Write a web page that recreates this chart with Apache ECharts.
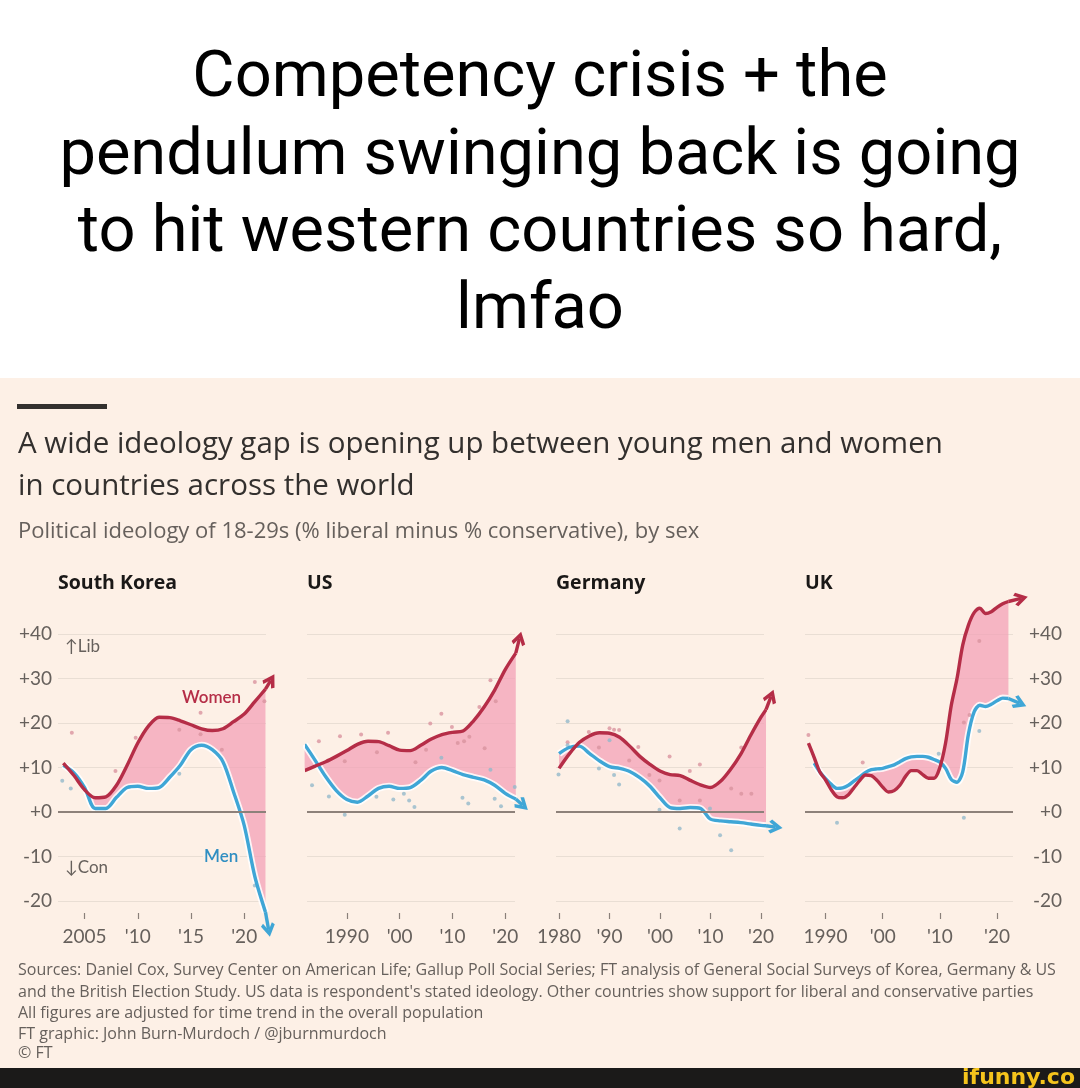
<!DOCTYPE html>
<html>
<head>
<meta charset="utf-8">
<script src="https://cdn.jsdelivr.net/npm/echarts@6.0.0/dist/echarts.min.js"></script>
<style>
  html, body { margin: 0; padding: 0; background: #fff; }
  #chart { width: 1080px; height: 1088px; }
</style>
</head>
<body>
<div id="chart"></div>
<script>
// ---- data ----
const skYears = [2003, 2004, 2005, 2006, 2007, 2008, 2009, 2010, 2011, 2012, 2013, 2014, 2015, 2016, 2017, 2018, 2019, 2020, 2021, 2022];
const skWomen = [11.0, 8.2, 5.0, 3.2, 3.4, 6.0, 10.5, 15.5, 19.3, 21.3, 21.2, 20.5, 19.6, 18.7, 18.3, 18.7, 20.3, 22.0, 24.8, 27.6];
const skMen = [10.5, 8.8, 5.5, 0.8, 0.8, 3.3, 5.5, 5.8, 5.3, 5.5, 7.8, 10.5, 14.0, 15.0, 14.0, 11.3, 4.5, -3.0, -14.5, -22.5];
const skWomenTip = [2022.5, 29.6];
const skMenTip = [2022.3, -26.5];
const skWomenDots = [[2003.8, 17.8], [2009.8, 16.7], [2013.9, 18.5], [2015.9, 22.3], [2015.9, 17.5], [2017.9, 14.0], [2021.0, 29.2], [2021.9, 24.9], [2007.9, 9.2]];
const skMenDots = [[2002.9, 7.0], [2003.7, 5.3], [2013.9, 8.6], [2021.0, -16.5]];
const skTicks = [2005, 2010, 2015, 2020];
const skTickLabels = ['2005', "'10", "'15", "'20"];

const usYears = [1982, 1984, 1986, 1988, 1990, 1992, 1994, 1996, 1998, 2000, 2002, 2004, 2006, 2008, 2010, 2012, 2014, 2016, 2018, 2020, 2022];
const usWomen = [9.3, 10.3, 11.3, 12.5, 13.8, 15.2, 15.9, 15.8, 14.9, 13.9, 13.8, 15.0, 16.4, 17.4, 17.9, 18.2, 20.5, 23.6, 27.4, 32.0, 35.7];
const usMen = [15.2, 11.6, 7.9, 4.8, 2.8, 2.2, 3.6, 5.3, 5.8, 5.3, 5.5, 7.1, 9.2, 10.0, 9.3, 8.4, 7.8, 7.2, 6.0, 4.2, 2.9];
const usWomenTip = [2022.7, 39.0];
const usMenTip = [2023.3, 1.5];
const usWomenDots = [[1984.7, 15.9], [1988.7, 17.0], [1992.7, 17.4], [1997.8, 17.8], [1995.7, 13.4], [1989.6, 11.4], [2007.9, 22.1], [2005.8, 19.9], [2009.9, 19.1], [2011.0, 15.5], [2012.2, 15.9], [2013.2, 16.9], [2015.1, 23.6], [2017.2, 29.6], [2018.2, 24.9], [2022.2, 33.4], [2016.1, 14.3], [2003.0, 11.2], [2005.0, 14.0]];
const usMenDots = [[1983.4, 6.0], [1986.6, 3.5], [1989.6, -0.6], [1995.6, 3.4], [1998.8, 2.8], [2000.8, 4.1], [2002.8, 1.1], [2001.8, 2.6], [2007.9, 12.2], [2011.9, 3.2], [2013.0, 1.9], [2017.2, 9.5], [2018.0, 3.0], [2019.2, 1.3], [2021.8, 5.6]];
const usTicks = [1990, 2000, 2010, 2020];
const usTickLabels = ['1990', "'00", "'10", "'20"];

const deYears = [1980, 1982, 1984, 1986, 1988, 1990, 1992, 1994, 1996, 1998, 2000, 2002, 2004, 2006, 2008, 2010, 2012, 2014, 2016, 2018, 2020, 2021];
const deWomen = [9.8, 13.0, 15.6, 17.1, 17.8, 17.7, 16.8, 14.8, 12.5, 10.7, 9.2, 8.4, 8.2, 7.1, 6.1, 5.5, 6.9, 9.6, 13.0, 17.3, 21.3, 23.0];
const deMen = [13.1, 14.5, 14.8, 13.2, 11.5, 10.2, 9.8, 9.1, 7.7, 5.8, 3.2, 1.0, 0.8, 1.0, 0.8, -1.6, -2.0, -2.2, -2.4, -2.7, -3.0, -3.1];
const deWomenTip = [2022.0, 26.0];
const deMenTip = [2022.9, -3.4];
const deWomenDots = [[1981.7, 15.7], [1985.9, 18.0], [1987.9, 14.5], [1990.0, 18.8], [1990.9, 18.5], [1991.9, 18.4], [1993.9, 11.6], [1995.7, 14.6], [1997.9, 8.3], [1999.9, 7.1], [2001.9, 12.5], [2005.9, 9.2], [2007.9, 10.7], [2003.9, 2.6], [2007.9, 2.6], [2014.1, 5.3], [2016.1, 14.5], [2016.1, 4.1], [2018.1, 4.1]];
const deMenDots = [[1981.7, 20.4], [1981.7, 15.0], [1979.9, 8.4], [1990.0, 16.1], [1987.9, 9.8], [1990.9, 8.3], [1991.9, 6.2], [1999.9, 0.5], [2003.9, -3.7], [2009.9, 0.8], [2011.9, -5.2], [2014.1, -8.6], [2020.9, -7.3]];
const deTicks = [1980, 1990, 2000, 2010, 2020];
const deTickLabels = ['1980', "'90", "'00", "'10", "'20"];

const ukYears = [1987, 1988, 1989, 1990, 1991, 1992, 1993, 1994, 1995, 1996, 1997, 1998, 1999, 2000, 2001, 2002, 2003, 2004, 2005, 2006, 2007, 2008, 2009, 2010, 2011, 2012, 2013, 2014, 2015, 2016, 2017, 2018, 2019, 2020, 2021, 2022];
const ukWomen = [15.5, 12.3, 9.0, 7.2, 5.0, 3.4, 3.2, 3.9, 5.5, 7.1, 8.3, 8.2, 7.1, 5.6, 4.5, 4.8, 6.0, 8.0, 9.3, 9.3, 8.4, 7.6, 7.6, 10.0, 15.5, 24.0, 30.0, 37.5, 42.0, 44.8, 45.8, 44.6, 45.0, 46.0, 46.8, 47.3];
const ukMen = [null, 11.0, 9.0, 7.5, 6.2, 5.3, 5.4, 6.0, 7.0, 7.9, 8.9, 9.5, 9.7, 9.8, 10.2, 10.6, 11.3, 12.0, 12.4, 12.5, 12.5, 12.3, 11.8, 11.2, 9.8, 7.3, 6.7, 9.0, 17.5, 22.5, 24.0, 23.7, 24.2, 25.0, 25.6, 25.5];
const ukWomenTip = [2024.2, 48.0];
const ukMenTip = [2024.0, 24.4];
const ukWomenDots = [[1987.0, 17.3], [1996.5, 11.1], [2014.8, 46.5], [2018.9, 46.9], [2016.9, 38.4], [2014.2, 20.1], [2015.2, 21.8]];
const ukMenDots = [[1992.0, -2.4], [2009.8, 13.1], [2016.9, 18.2], [2014.2, -1.3]];
const ukTicks = [1990, 2000, 2010, 2020];
const ukTickLabels = ['1990', "'00", "'10", "'20"];

const sourceLines = [
  'Sources: Daniel Cox, Survey Center on American Life; Gallup Poll Social Series; FT analysis of General Social Surveys of Korea, Germany & US',
  "and the British Election Study. US data is respondent's stated ideology. Other countries show support for liberal and conservative parties",
  'All figures are adjusted for time trend in the overall population',
  'FT graphic: John Burn-Murdoch / @jburnmurdoch',
  '\u00a9 FT'
];

// ---- styling ----
const PAPER = '#fdf0e6';
const RED = '#b52d47';
const BLUE = '#3fa6d6';
const FILL = 'rgba(243,160,182,0.74)';
const GREY = '#66605c';
const INK = '#33302e';
const FONT = 'Lato, "Open Sans", sans-serif';
const HEAD = '"Open Sans", Lato, sans-serif';
const CHEVRON = 'path://M5,0L10,7.2L8.2,8.8L5,4.2L1.8,8.8L0,7.2Z';

const panels = [
  { name: 'South Korea', years: skYears, women: skWomen, men: skMen, wTip: skWomenTip, mTip: skMenTip, wDots: skWomenDots, mDots: skMenDots, ticks: skTicks, tickLabels: skTickLabels, xMin: 2002.5, xMax: 2022.05, left: 58 },
  { name: 'US', years: usYears, women: usWomen, men: usMen, wTip: usWomenTip, mTip: usMenTip, wDots: usWomenDots, mDots: usMenDots, ticks: usTicks, tickLabels: usTickLabels, xMin: 1982.45, xMax: 2021.85, left: 307 },
  { name: 'Germany', years: deYears, women: deWomen, men: deMen, wTip: deWomenTip, mTip: deMenTip, wDots: deWomenDots, mDots: deMenDots, ticks: deTicks, tickLabels: deTickLabels, xMin: 1979.4, xMax: 2020.6, left: 556 },
  { name: 'UK', years: ukYears, women: ukWomen, men: ukMen, wTip: ukWomenTip, mTip: ukMenTip, wDots: ukWomenDots, mDots: ukMenDots, ticks: ukTicks, tickLabels: ukTickLabels, xMin: 1986.4, xMax: 2022.8, left: 805 }
];

const pairs = (xs, ys) => xs.map((x, k) => [x, ys[k]]).filter(d => d[1] != null);
const signed = v => (v >= 0 ? '+' + v : String(v));

const grids = [], xAxes = [], yAxes = [], series = [];

panels.forEach((p, i) => {
  grids.push({ left: p.left, top: 634, width: 208, height: 267 });

  xAxes.push({
    gridIndex: i, type: 'value', min: p.xMin, max: p.xMax, offset: 12,
    axisLine: { show: false, onZero: false },
    axisTick: { show: true, customValues: p.ticks, length: 6, lineStyle: { color: '#8a807a', width: 1.2 } },
    axisLabel: {
      customValues: p.ticks, margin: 14, color: GREY, fontSize: 19, fontFamily: FONT,
      formatter: v => p.tickLabels[p.ticks.indexOf(v)]
    },
    splitLine: { show: false }
  });

  yAxes.push({
    gridIndex: i, type: 'value', min: -20, max: 40, interval: 10,
    position: i === 3 ? 'right' : 'left',
    axisLine: { show: false }, axisTick: { show: false },
    axisLabel: {
      show: i === 0 || i === 3, formatter: signed, color: GREY, fontSize: 19, fontFamily: FONT,
      align: 'right', margin: i === 3 ? 49 : 6
    },
    splitLine: { lineStyle: { color: '#e9ded4', width: 1 } }
  });

  const womenData = pairs(p.years, p.women);
  const menData = pairs(p.years, p.men);

  // pink band between the two curves
  series.push({
    type: 'custom', xAxisIndex: i, yAxisIndex: i, silent: true, z: 1,
    data: [womenData[0]],
    renderItem: (params, api) => {
      const pts = womenData.map(d => api.coord(d));
      for (let k = menData.length - 1; k >= 0; k--) pts.push(api.coord(menData[k]));
      return { type: 'polygon', shape: { points: pts }, style: { fill: FILL } };
    }
  });

  // white halo under the men line, carries the zero line
  series.push({
    type: 'line', xAxisIndex: i, yAxisIndex: i, data: menData, smooth: 0.3, showSymbol: false,
    silent: true, clip: false, z: 2,
    lineStyle: { color: 'rgba(255,255,255,0.85)', width: 7 },
    markLine: {
      silent: true, symbol: 'none', label: { show: false },
      lineStyle: { color: '#8d817a', width: 2, type: 'solid' },
      data: [{ yAxis: 0 }]
    }
  });

  series.push({
    type: 'scatter', xAxisIndex: i, yAxisIndex: i, data: p.wDots, symbolSize: 4, silent: true, z: 2,
    itemStyle: { color: '#d9939f', opacity: 0.8 }
  });
  series.push({
    type: 'scatter', xAxisIndex: i, yAxisIndex: i, data: p.mDots, symbolSize: 4, silent: true, z: 2,
    itemStyle: { color: '#93b9cb', opacity: 0.8 }
  });

  series.push({
    name: 'Men', type: 'line', xAxisIndex: i, yAxisIndex: i, data: menData, smooth: 0.3, showSymbol: false,
    silent: true, clip: false, z: 3, lineStyle: { color: BLUE, width: 3.4 }
  });
  series.push({
    name: 'Women', type: 'line', xAxisIndex: i, yAxisIndex: i, data: womenData, smooth: 0.3, showSymbol: false,
    silent: true, clip: false, z: 4, lineStyle: { color: RED, width: 3.4 }
  });

  // arrow heads at the end of each curve
  series.push({
    type: 'lines', coordinateSystem: 'cartesian2d', xAxisIndex: i, yAxisIndex: i, silent: true, clip: false, z: 5,
    symbol: ['none', CHEVRON], symbolSize: [17, 14],
    lineStyle: { width: 3.4, opacity: 1, curveness: 0 },
    data: [
      { coords: [menData[menData.length - 1], p.mTip], lineStyle: { color: BLUE } },
      { coords: [womenData[womenData.length - 1], p.wTip], lineStyle: { color: RED } }
    ]
  });
});

const text = (x, y, str, font, fill, align, halo) => ({
  type: 'text', x, y, silent: true, z: 10,
  style: Object.assign(
    { text: str, font, fill, align: align || 'left', verticalAlign: 'middle' },
    halo ? { stroke: PAPER, lineWidth: 5 } : {}
  )
});

const graphics = [
  { type: 'rect', shape: { x: 0, y: 0, width: 1080, height: 378 }, style: { fill: '#ffffff' }, silent: true },
  { type: 'rect', shape: { x: 0, y: 1068, width: 1080, height: 20 }, style: { fill: '#1b1a19' }, silent: true },
  text(540, 80, 'Competency crisis + the', '65px Roboto', '#000', 'center'),
  text(540, 158, 'pendulum swinging back is going', '65px Roboto', '#000', 'center'),
  text(540, 235, 'to hit western countries so hard,', '65px Roboto', '#000', 'center'),
  text(540, 312, 'lmfao', '65px Roboto', '#000', 'center'),
  { type: 'rect', shape: { x: 17, y: 404, width: 90, height: 5 }, style: { fill: INK }, silent: true },
  text(18, 445, 'A wide ideology gap is opening up between young men and women', '29.5px ' + HEAD, INK),
  text(18, 487, 'in countries across the world', '29.5px ' + HEAD, INK),
  text(18, 532, 'Political ideology of 18-29s (% liberal minus % conservative), by sex', '22px ' + HEAD, GREY),
  text(65, 647, '\u2191Lib', '17px ' + FONT, GREY, 'left', true),
  text(65, 868, '\u2193Con', '17px ' + FONT, GREY, 'left', true),
  text(182, 698, 'Women', '600 17px ' + FONT, RED, 'left', true),
  text(204, 857, 'Men', '600 17px ' + FONT, '#2f8ec2', 'left', true),
  text(1075, 1078, 'ifunny.co', 'bold 22px "DejaVu Sans"', '#f5c41c', 'right')
];
panels.forEach(p => graphics.push(text(p.left, 583, p.name, 'bold 19.5px ' + HEAD, '#1a1817')));
const sourceY = [970, 992, 1013, 1034, 1053];
sourceLines.forEach((s, k) => graphics.push(text(18, sourceY[k], s, '16px ' + HEAD, GREY)));

const chart = echarts.init(document.getElementById('chart'));
chart.setOption({
  backgroundColor: PAPER,
  animation: false,
  grid: grids,
  xAxis: xAxes,
  yAxis: yAxes,
  series: series,
  graphic: { elements: graphics }
});
</script>
</body>
</html>
